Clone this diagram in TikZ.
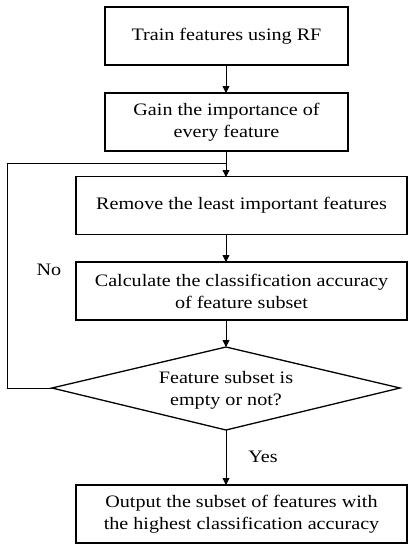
\documentclass[tikz,border=0pt]{standalone}
\usepackage{fontspec}
\setmainfont{Liberation Serif}[FakeStretch=1.15]
\usetikzlibrary{arrows.meta,shapes.geometric}
\begin{document}
\begin{tikzpicture}[x=1pt,y=-1pt,
  txt/.style={font=\fontsize{17.5}{22}\selectfont},
  box/.style={draw,line width=1.3pt,minimum height=58pt,align=center,txt,inner sep=2pt},
  conn/.style={line width=0.8pt,-{Triangle[length=7pt,width=7pt]}},
  loopline/.style={line width=0.6pt}]
\useasboundingbox (0,0) rectangle (415,550);
\node[box,minimum width=243pt] (b1) at (226.5,36) {Train features using RF};
\node[box,minimum width=243pt] (b2) at (226.5,122) {Gain the importance of\\every feature};
\node[box,minimum width=331pt] (b3) at (241.5,205.5) {Remove the least important features};
\node[box,minimum width=331pt] (b4) at (241.5,291) {Calculate the classification accuracy\\of feature subset};
\coordinate (dt) at (226,347);
\coordinate (dl) at (52,388);
\coordinate (dr) at (400,388);
\coordinate (db) at (226,430);
\draw[line width=1.3pt] (dt) -- (dr) -- (db) -- (dl) -- cycle;
\node[align=center,txt] (d) at (226,390) {Feature subset is\\empty or not?};
\node[box,minimum width=331pt] (b5) at (241.5,514) {Output the subset of features with\\the highest classification accuracy};
\coordinate (j) at (226,163);
\coordinate (lb) at (7,388);
\coordinate (lt) at (7,163);
\draw[conn] (226,65) -- (226,93);
\draw[conn] (226,151) -- (226,177);
\draw[conn] (226,234) -- (226,262);
\draw[conn] (226,320) -- (dt);
\draw[conn] (db) -- (226,485);
\draw[loopline] (dl) -- (lb) -- (lt) -- (j);
\node[txt] (no) at (49,270) {No};
\node[txt] (yes) at (263,457) {Yes};
\end{tikzpicture}
\end{document}
